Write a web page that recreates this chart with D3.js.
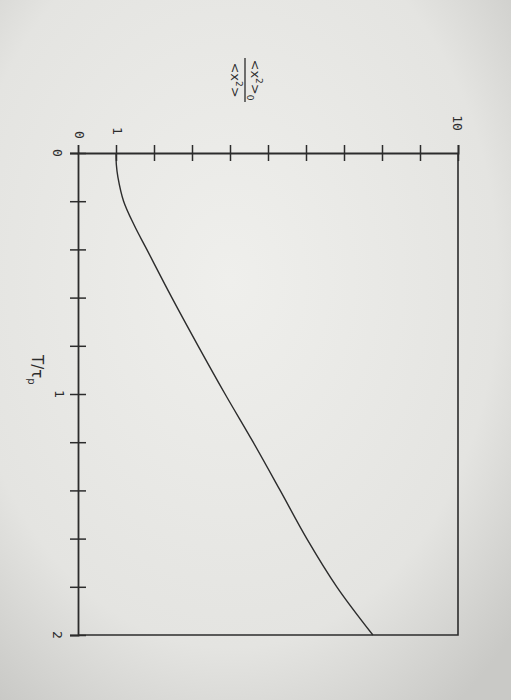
<!DOCTYPE html><html><head><meta charset="utf-8">
<script src="https://cdn.jsdelivr.net/npm/d3@7"></script>
<style>body{margin:0;background:#e6e6e3}</style></head><body>
<script>
const tValues=[0,0.05,0.1,0.2,0.3,0.4,0.6,0.8,1.0,1.2,1.4,1.6,1.8,2.0];
const ratioValues=[1.0,1.01,1.05,1.2,1.48,1.81,2.47,3.16,3.87,4.61,5.32,6.02,6.81,7.76];
const tTicks=[0,0.2,0.4,0.6,0.8,1,1.2,1.4,1.6,1.8,2];
const rTicks=[0,1,2,3,4,5,6,7,8,9,10];
const W=511,H=700;
const svg=d3.select("body").append("svg").attr("width",W).attr("height",H);
const g0=svg.append("defs").append("radialGradient").attr("id","bg").attr("cx","45%").attr("cy","40%").attr("r","75%");
g0.append("stop").attr("offset","0%").attr("stop-color","#efefec");
g0.append("stop").attr("offset","70%").attr("stop-color","#e4e4e1");
g0.append("stop").attr("offset","100%").attr("stop-color","#c9c9c6");
svg.append("rect").attr("width",W).attr("height",H).attr("fill","url(#bg)");
const L=78,R=458,T=153,B=635,ink="#2c2c2c";
const t=d3.scaleLinear().domain([0,2]).range([T,B]);
const r=d3.scaleLinear().domain([0,10]).range([L,R]);
svg.append("path").attr("d",`M${R},${T}V${B}H${L}`).attr("fill","none").attr("stroke",ink).attr("stroke-width",1.6);
const ax1=svg.append("g").attr("transform",`translate(${L},0)`).call(d3.axisLeft(t).tickValues(tTicks).tickSize(8).tickFormat(""));
ax1.selectAll(".tick line").attr("x2",8).attr("x1",-8);
const ax2=svg.append("g").attr("transform",`translate(0,${T})`).call(d3.axisTop(r).tickValues(rTicks).tickSize(8).tickFormat(""));
ax2.selectAll(".tick line").attr("y2",8).attr("y1",-8);
svg.selectAll(".domain").attr("stroke",ink).attr("stroke-width",1.8);
svg.selectAll(".tick line").attr("stroke",ink).attr("stroke-width",1.5);
ax2.select(".tick line").remove();
const txt=(x,y,s,size)=>svg.append("text").attr("transform",`translate(${x},${y}) rotate(90)`).attr("text-anchor","middle").attr("dominant-baseline","middle")
 .attr("font-family","DejaVu Sans Mono").attr("font-size",size||13).attr("fill",ink).text(s);
txt(L-22,t(0),"0");txt(L-20,t(1),"1");txt(L-22,t(2),"2");
txt(r(0),T-18,"0");txt(r(1),T-22,"1");txt(r(10)-2,T-30,"10");
svg.append("text").attr("transform",`translate(32,${t(0.9)}) rotate(90)`).attr("text-anchor","middle").attr("font-family","DejaVu Sans").attr("font-size",15).attr("fill",ink)
 .html('T/τ<tspan font-size="10" dy="4">p</tspan>');
const fl=svg.append("g").attr("transform",`translate(245,80) rotate(90)`).attr("font-family","DejaVu Sans").attr("fill",ink);
fl.append("text").attr("x",0).attr("y",-6).attr("text-anchor","middle").attr("font-size",13).html('&lt;x<tspan font-size="9" dy="-5">2</tspan><tspan dy="5">&gt;</tspan><tspan font-size="9" dy="4">0</tspan>');
fl.append("line").attr("x1",-22).attr("x2",22).attr("y1",0).attr("y2",0).attr("stroke",ink).attr("stroke-width",1.3);
fl.append("text").attr("x",0).attr("y",14).attr("text-anchor","middle").attr("font-size",13).html('&lt;x<tspan font-size="9" dy="-5">2</tspan><tspan dy="5">&gt;</tspan>');
const line=d3.line().x((d,i)=>r(ratioValues[i])).y(d=>t(d)).curve(d3.curveCatmullRom);
svg.append("path").datum(tValues).attr("d",line).attr("fill","none").attr("stroke",ink).attr("stroke-width",1.4);
</script></body></html>
